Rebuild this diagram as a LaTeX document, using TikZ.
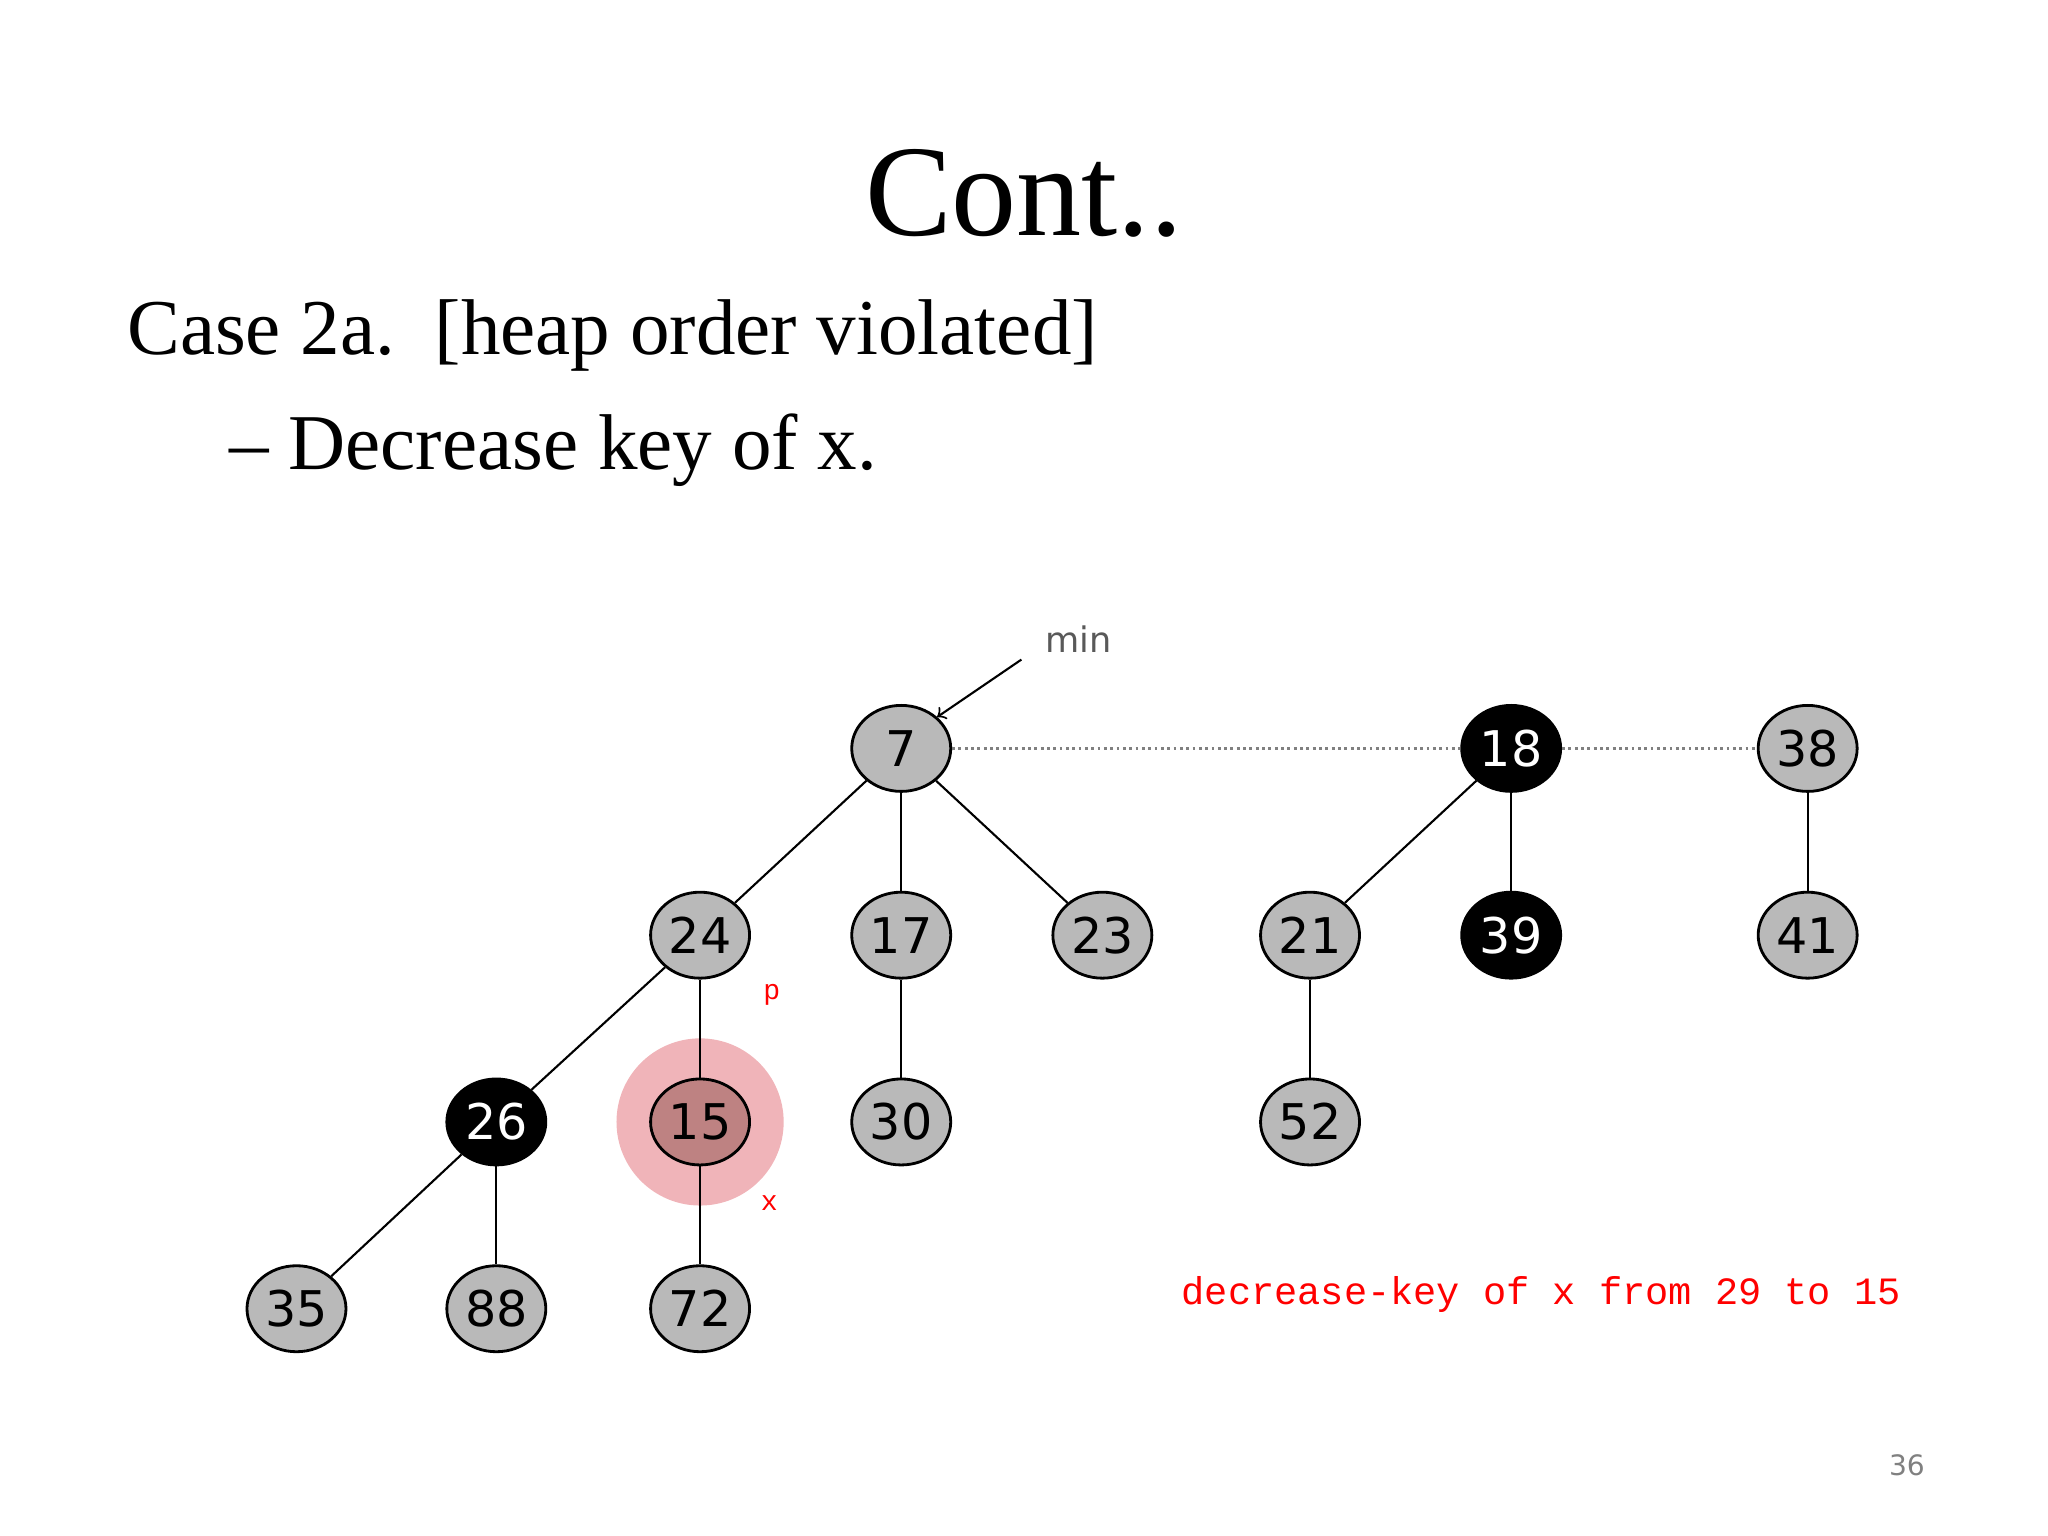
\documentclass[tikz,border=0pt]{standalone}
\usepackage{fontspec}
\setmainfont{Liberation Serif}
\newfontfamily\nodefont{DejaVu Sans}
\newfontfamily\monofont{Liberation Mono}
\usetikzlibrary{shapes.geometric}
\definecolor{blob}{RGB}{240,180,185}
\definecolor{fifteen}{RGB}{190,130,130}
\begin{document}
\begin{tikzpicture}[x=0.013061cm,y=-0.013061cm,
  hn/.style={ellipse,draw,thick,minimum width=0.99cm,minimum height=0.86cm,inner sep=0pt,font=\nodefont\fontsize{14}{14}\selectfont},
  gn/.style={hn,fill=gray!55},
  bn/.style={hn,fill=black,text=white},
  edge/.style={semithick}]
\useasboundingbox (0,0) rectangle (1568,1176);
\node[font=\fontsize{37}{40}\selectfont] (title) at (784,148) {Cont..};
\node[anchor=west,font=\fontsize{22.5}{26}\selectfont] (case) at (88,257) {Case 2a.\ \ [heap order violated]};
\node[anchor=west,font=\fontsize{22.5}{26}\selectfont] (dec) at (166,345) {-- Decrease key of x.};
\fill[blob] (536,859) circle (64);
\node[gn] (n7) at (690,573) {7};
\node[bn] (n18) at (1157,573) {18};
\node[gn] (n38) at (1384,573) {38};
\node[gn] (n24) at (536,716) {24};
\node[gn] (n17) at (690,716) {17};
\node[gn] (n23) at (844,716) {23};
\node[gn] (n21) at (1003,716) {21};
\node[bn] (n39) at (1157,716) {39};
\node[gn] (n41) at (1384,716) {41};
\node[bn] (n26) at (380,859) {26};
\node[hn,fill=fifteen] (n15) at (536,859) {15};
\node[gn] (n30) at (690,859) {30};
\node[gn] (n52) at (1003,859) {52};
\node[gn] (n35) at (227,1002) {35};
\node[gn] (n88) at (380,1002) {88};
\node[gn] (n72) at (536,1002) {72};
\draw[gray,densely dotted,thick] (n7) -- (n18);
\draw[gray,densely dotted,thick] (n18) -- (n38);
\foreach \a/\b in {n7/n24,n7/n17,n7/n23,n18/n21,n18/n39,n38/n41,n24/n26,n24/n15,n17/n30,n21/n52,n26/n35,n26/n88,n15/n72}
  \draw[edge] (\a) -- (\b);
\node[text=gray!70!black,font=\nodefont\fontsize{10}{12}\selectfont] (min) at (826,489) {min};
\coordinate (ms) at (782,505);
\draw[semithick,->] (ms) -- (n7.north east);
\node[text=red,font=\monofont\fontsize{8}{10}\selectfont] (p) at (591,762) {p};
\node[text=red,font=\monofont\fontsize{8}{10}\selectfont] (x) at (589,921) {x};
\node[text=red,font=\monofont\fontsize{11}{13}\selectfont] (cap) at (1180,991) {decrease-key of x from 29 to 15};
\node[text=gray,font=\nodefont\fontsize{8}{10}\selectfont] (pg) at (1460,1122) {36};
\end{tikzpicture}
\end{document}
